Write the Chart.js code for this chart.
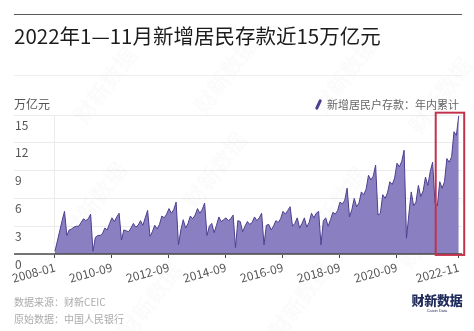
<!DOCTYPE html>
<html>
<head>
<meta charset="utf-8">
<script src="https://cdn.jsdelivr.net/npm/chart.js@4.4.0/dist/chart.umd.min.js"></script>
<style>
html, body { margin: 0; padding: 0; background: #fff; }
body { width: 474px; height: 331px; position: relative; overflow: hidden;
  font-family: "Noto Sans CJK SC", "Noto Sans", sans-serif; }
#chart { position: absolute; left: 0; top: 0; }
.rule { position: absolute; left: 14px; width: 448px; height: 0; }
#top-rule { top: 14px; border-top: 1.5px solid #5a5a5a; }
#sub-rule { top: 75px; border-top: 1px solid #eeeeee; }
#title { position: absolute; left: 14px; top: 21px; font-size: 20.5px; line-height: 28px; color: #1c1c1c; white-space: nowrap; }
#unit { position: absolute; left: 14px; top: 96px; font-size: 12px; line-height: 16px; color: #555; }
#legend { position: absolute; right: 15px; top: 96px; font-size: 11px; line-height: 16px; color: #666; white-space: nowrap; }
#legend i { display: inline-block; width: 3px; height: 11px; background: #4a3f8e; border-radius: 2px;
  transform: rotate(25deg); margin-right: 7px; vertical-align: -1px; }
.foot { position: absolute; left: 14px; font-size: 10px; line-height: 14px; color: #ababab; white-space: nowrap; }
#logo { position: absolute; left: 408px; top: 292px; width: 58px; text-align: center; color: #1f2b5b; white-space: nowrap; }
#logo b { display: block; font-size: 13px; line-height: 16px; font-weight: 900; letter-spacing: -0.3px; }
#logo span { display: block; font-size: 4px; line-height: 5px; font-family: "Liberation Sans", sans-serif; }
</style>
</head>
<body>
<canvas id="chart" width="474" height="331"></canvas>
<div class="rule" id="top-rule"></div>
<div id="title">2022年1—11月新增居民存款近15万亿元</div>
<div class="rule" id="sub-rule"></div>
<div id="unit">万亿元</div>
<div id="legend"><i></i>新增居民户存款：年内累计</div>
<div class="foot" style="top:295px">数据来源：财新CEIC</div>
<div class="foot" style="top:312px">原始数据：中国人民银行</div>
<div id="logo"><b>财新数据</b><span>Caixin Data</span></div>
<script>
// 年内累计新增居民户存款，万亿元
const y2008 = [0.3, 1.4, 2.5, 3.6, 4.6];
const y2009 = [2.0, 2.6, 2.7, 2.9, 3.0, 3.0, 3.4, 3.8, 3.6, 3.8, 4.3];
const y2010 = [0.3, 1.8, 2.0, 2.0, 2.2, 2.8, 2.6, 3.3, 3.9, 3.5, 4.0, 4.4];
const y2011 = [1.5, 2.6, 2.5, 2.4, 2.8, 3.3, 2.9, 3.1, 3.6, 3.1, 3.9, 4.7];
const y2012 = [1.9, 2.4, 3.1, 2.7, 3.2, 4.1, 3.9, 4.3, 4.9, 4.4, 4.8, 5.6];
const y2013 = [1.0, 2.6, 3.7, 2.8, 3.3, 4.1, 3.8, 4.2, 4.9, 4.4, 4.8, 5.5];
const y2014 = [2.0, 3.0, 3.3, 2.3, 3.1, 4.0, 3.5, 3.7, 3.9, 3.6, 3.8, 4.2];
const y2015 = [0.7, 3.6, 3.5, 2.4, 3.0, 3.5, 3.2, 3.4, 4.0, 3.6, 3.9, 4.4];
const y2016 = [1.0, 3.1, 3.2, 2.6, 3.0, 3.6, 3.4, 3.8, 4.6, 4.3, 4.7, 5.1];
const y2017 = [3.0, 3.3, 3.9, 2.8, 3.3, 3.9, 2.9, 3.4, 4.4, 3.9, 4.4, 4.6];
const y2018 = [1.0, 3.6, 3.9, 3.0, 3.7, 4.5, 4.3, 4.7, 5.6, 5.4, 5.8, 7.1];
const y2019 = [4.0, 4.8, 6.0, 5.1, 5.5, 6.7, 6.4, 7.0, 8.5, 8.0, 8.4, 9.6];
const y2020 = [4.2, 4.4, 6.4, 6.0, 6.6, 7.8, 7.5, 8.2, 9.8, 9.4, 10.0, 11.2];
const y2021 = [1.7, 4.3, 6.7, 5.2, 5.6, 7.4, 6.2, 6.8, 8.3, 7.4, 8.9, 9.9];
const y2022 = [5.5, 5.2, 7.8, 7.1, 7.8, 10.3, 9.9, 10.5, 13.2, 12.8, 14.9];

// 月份（2008、2009年数据不全）
const m2008 = ['01', '03', '06', '09', '12'];
const m2009 = ['02', '03', '04', '05', '06', '07', '08', '09', '10', '11', '12'];
const mFull = ['01', '02', '03', '04', '05', '06', '07', '08', '09', '10', '11', '12'];
const m2022 = mFull.slice(0, 11);

const shownTicks = [0, 24, 48, 72, 96, 120, 144, 170];
const yTicks = [0, 3, 6, 9, 12, 15];

const years = [
  [2008, m2008, y2008], [2009, m2009, y2009], [2010, mFull, y2010], [2011, mFull, y2011],
  [2012, mFull, y2012], [2013, mFull, y2013], [2014, mFull, y2014], [2015, mFull, y2015],
  [2016, mFull, y2016], [2017, mFull, y2017], [2018, mFull, y2018], [2019, mFull, y2019],
  [2020, mFull, y2020], [2021, mFull, y2021], [2022, m2022, y2022]
];

let labels = [];
let series = [];
years.forEach(function (yr) {
  yr[1].forEach(function (m) { labels.push(yr[0] + '-' + m); });
  series = series.concat(yr[2]);
});
const points = series.map(function (v, i) { return { x: i, y: v }; });

const FONT = '"Noto Sans CJK SC", "Noto Sans", sans-serif';

const overlay = {
  id: 'overlay',
  afterDatasetsDraw: function (chart) {
    const c = chart.ctx, a = chart.chartArea;
    const xs = chart.scales.x, ys = chart.scales.y;
    const y0 = ys.getPixelForValue(0);
    c.save();
    // 横轴
    c.strokeStyle = '#4a4a4a';
    c.lineWidth = 1.5;
    c.beginPath();
    c.moveTo(a.left, y0);
    c.lineTo(a.right, y0);
    c.stroke();
    // 2022年红框
    const bx1 = xs.getPixelForValue(160.3), bx2 = xs.getPixelForValue(172.3);
    const by1 = ys.getPixelForValue(15.25), by2 = ys.getPixelForValue(-0.1);
    c.strokeStyle = '#c3324b';
    c.lineWidth = 2;
    c.strokeRect(bx1, by1, bx2 - bx1, by2 - by1);
    c.restore();
  },
  afterDraw: function (chart) {
    const c = chart.ctx;
    const marks = [[105, 85], [225, 75], [345, 75], [440, 95], [95, 200], [215, 170], [335, 205], [430, 230], [150, 300], [300, 300]];
    c.save();
    c.fillStyle = 'rgba(140,140,160,0.035)';
    c.font = 'bold 22px ' + FONT;
    c.textAlign = 'center';
    c.textBaseline = 'middle';
    marks.forEach(function (p) {
      c.save();
      c.translate(p[0], p[1]);
      c.rotate(-Math.PI / 3.4);
      c.fillText('财新数据', 0, 0);
      c.restore();
    });
    c.restore();
  }
};

new Chart(document.getElementById('chart'), {
  type: 'line',
  data: {
    datasets: [{
      label: '新增居民户存款：年内累计',
      data: points,
      fill: 'origin',
      backgroundColor: '#8a80c1',
      borderColor: '#4a3f8e',
      borderWidth: 1,
      pointRadius: 0,
      tension: 0
    }]
  },
  options: {
    responsive: false,
    animation: false,
    layout: { padding: { left: 14, right: 12, top: 115, bottom: 0 } },
    plugins: { legend: { display: false }, tooltip: { enabled: false } },
    scales: {
      x: {
        type: 'linear',
        min: -17.26,
        max: 171.37,
        afterBuildTicks: function (s) { s.ticks = shownTicks.map(function (v) { return { value: v }; }); },
        afterFit: function (s) { s.height = 77; },
        grid: {
          color: function (ctx) { return ctx.tick && ctx.tick.value === 0 ? '#ececec' : 'rgba(0,0,0,0)'; },
          tickColor: '#444',
          tickLength: 4
        },
        border: { display: false },
        ticks: {
          autoSkip: false,
          maxRotation: 15,
          minRotation: 15,
          padding: 2,
          color: '#555',
          font: { size: 12, family: FONT },
          callback: function (v) { return labels[v]; }
        }
      },
      y: {
        min: 0,
        max: 15,
        afterBuildTicks: function (s) { s.ticks = yTicks.map(function (v) { return { value: v }; }); },
        afterFit: function (s) { s.width = 0; },
        grid: { color: '#ebebeb', drawTicks: false },
        border: { display: false },
        ticks: {
          mirror: true,
          padding: 1,
          labelOffset: 10,
          color: '#555',
          font: { size: 12, family: FONT }
        }
      }
    }
  },
  plugins: [overlay]
});
</script>
</body>
</html>
